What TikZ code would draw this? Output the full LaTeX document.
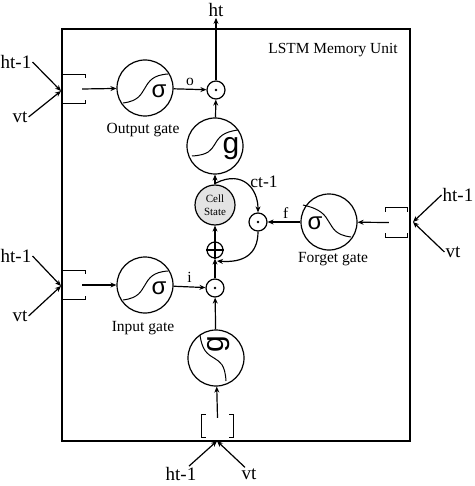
\documentclass[tikz,border=0pt]{standalone}
\usepackage{fontspec}
\setmainfont{Liberation Serif}
\newfontfamily\symfont{Liberation Sans}
\usetikzlibrary{arrows.meta}
\begin{document}
\begin{tikzpicture}[x=1pt,y=-1pt,
  ar/.style={line width=1.2pt,-{Stealth[length=6pt,width=5pt]}},
  gate/.style={circle,draw,line width=1.2pt,minimum size=56pt,inner sep=0pt},
  op/.style={circle,draw,line width=1.2pt,minimum size=18pt,inner sep=0pt},
  lab/.style={font=\fontsize{15.5}{18}\selectfont},
  io/.style={font=\fontsize{19}{22}\selectfont,inner sep=1pt},
  brk/.style={line width=1pt},
  curve/.style={line width=1pt},
  sym/.style={font=\symfont\fontsize{24}{26}\selectfont,inner sep=0pt},
  brkbox/.style={minimum width=23pt,minimum height=29pt,inner sep=0pt}]
\useasboundingbox (0,0) rectangle (474,486);

% memory unit box
\node[draw,line width=1.2pt,minimum width=348pt,minimum height=412pt,inner sep=0pt] (unit) at (236,235) {};
\node[font=\fontsize{15.4}{18}\selectfont] (title) at (333,50) {LSTM Memory Unit};

% output gate
\node[gate] (og) at (145,88) {};
\begin{scope}[shift={(og.center)}]
  \draw[curve] (-22,15) .. controls (-6,13) and (-4,6) .. (0,0) .. controls (4,-7) and (8,-13) .. (23,-14);
  \node[sym] at (14,3) {σ};
\end{scope}
\node[lab] (oglab) at (143,130) {Output gate};
\node[brkbox] (ob) at (74.5,89) {};
\draw[brk] (ob.north west) ++(0,4) -- ++(0,-4) -- ++(23,0) -- ++(0,4);
\draw[brk] (ob.south west) ++(0,-4) -- ++(0,4) -- ++(23,0) -- ++(0,-4);
\node[op] (od) at (216,90) {};
\fill (od.center) circle (1.4pt);
\node[io] (ht) at (216,10) {ht};
\node[io] (oh) at (16,62) {ht-1};
\node[io] (ov) at (20,117) {vt};
\coordinate (oin) at (61,91);

% output g
\node[gate] (gg) at (215,146) {};
\begin{scope}[shift={(gg.center)}]
  \draw[curve] (-23,10) .. controls (-6,9) and (-4,4) .. (0,-2) .. controls (4,-9) and (8,-14) .. (23,-16);
  \node[sym,font=\symfont\fontsize{30}{32}\selectfont] at (16,3) {g};
\end{scope}

% cell state
\node[op,minimum size=40pt,fill=gray!22,font=\fontsize{11}{12.5}\selectfont,align=center] (cs) at (215,205) {Cell\\State};
\node[op,minimum size=16pt] (pl) at (215,250) {};
\draw[line width=1.1pt] (pl.north) -- (pl.south) (pl.west) -- (pl.east);
\coordinate (ctop) at (216,183);
\coordinate (pin) at (217,261);

% input gate
\node[gate] (ig) at (145,285) {};
\begin{scope}[shift={(ig.center)}]
  \draw[curve] (-22,15) .. controls (-6,13) and (-4,6) .. (0,0) .. controls (4,-7) and (8,-13) .. (23,-14);
  \node[sym] at (14,3) {σ};
\end{scope}
\node[lab] (iglab) at (143,328) {Input gate};
\node[brkbox] (ib) at (74.5,285) {};
\draw[brk] (ib.north west) ++(0,4) -- ++(0,-4) -- ++(23,0) -- ++(0,4);
\draw[brk] (ib.south west) ++(0,-4) -- ++(0,4) -- ++(23,0) -- ++(0,-4);
\node[op] (id) at (215,288) {};
\fill (id.center) circle (1.4pt);
\node[io] (ih) at (16,256) {ht-1};
\node[io] (iv) at (20,316) {vt};
\coordinate (iin) at (61,286);

% bottom g
\node[gate] (bg) at (216,358) {};
\begin{scope}[shift={(bg.center)},rotate=90]
  \draw[curve] (-23,10) .. controls (-6,9) and (-4,4) .. (0,-2) .. controls (4,-9) and (8,-14) .. (23,-16);
  \node[sym,font=\symfont\fontsize{30}{32}\selectfont,transform shape] at (14,3) {g};
\end{scope}
\node[minimum width=31pt,minimum height=23pt,inner sep=0pt] (bb) at (217.5,426.5) {};
\draw[brk] (bb.north west) ++(4,0) -- ++(-4,0) -- ++(0,23) -- ++(4,0);
\draw[brk] (bb.north east) ++(-4,0) -- ++(4,0) -- ++(0,23) -- ++(-4,0);
\node[io] (bh) at (181,474) {ht-1};
\node[io] (bv) at (249,474) {vt};
\coordinate (bin) at (217,441);

% forget gate
\node[gate] (fg) at (329,222) {};
\begin{scope}[shift={(fg.center)},xscale=-1]
  \draw[curve] (-22,15) .. controls (-6,13) and (-4,6) .. (0,0) .. controls (4,-7) and (8,-13) .. (26,-17);
\end{scope}
\node[sym] at (315,223) {σ};
\node[lab] (fglab) at (333,259) {Forget gate};
\node[brkbox,minimum width=22pt] (fb) at (396,222.5) {};
\draw[brk] (fb.north east) ++(0,4) -- ++(0,-4) -- ++(-22,0) -- ++(0,4);
\draw[brk] (fb.south east) ++(0,-4) -- ++(0,4) -- ++(-22,0) -- ++(0,-4);
\node[op] (fd) at (258,222) {};
\fill (fd.center) circle (1.4pt);
\node[io] (rh) at (458,195) {ht-1};
\node[io] (rv) at (453,252) {vt};
\coordinate (rin) at (413,222);

% connectors
\draw[ar] ([xshift=-4pt]ob.east) -- (og);
\draw[ar] (og) -- node[lab,above,pos=0.5] {o} (od);
\draw[ar] (od) -- (ht.south);
\draw[ar] (gg) -- (od);
\draw[ar] (cs) -- (gg);
\draw[ar] (pl) -- (cs);
\draw[ar] (id) -- (pl);
\draw[ar] (bg) -- (id);
\draw[ar] ([xshift=-4pt]ib.east) -- (ig);
\draw[ar] (ig) -- node[lab,above,pos=0.5] {i} (id);
\draw[ar] ([yshift=-3pt]bb.north) -- (bg);
\draw[ar] ([xshift=4pt]fb.west) -- (fg);
\draw[ar] (fg) -- node[lab,above,pos=0.45] {f} (fd);
\draw[ar] (ctop) .. controls (242,170) and (258,188) .. (fd.north);
\draw[ar] (fd.south) .. controls (258,254) and (244,263) .. (pin);
\node[font=\fontsize{17.5}{20}\selectfont] (ct) at (264,182) {ct-1};

% external inputs
\draw[ar] (oh.east) -- (oin);
\draw[ar] (ov.east) -- (oin);
\draw[ar] (ih.east) -- (iin);
\draw[ar] (iv.east) -- (iin);
\draw[ar] ([xshift=8pt]bh.north) -- (bin);
\draw[ar] ([xshift=-4pt]bv.north) -- (bin);
\draw[ar] (rh.west) -- (rin);
\draw[ar] (rv.west) -- (rin);
\end{tikzpicture}
\end{document}
